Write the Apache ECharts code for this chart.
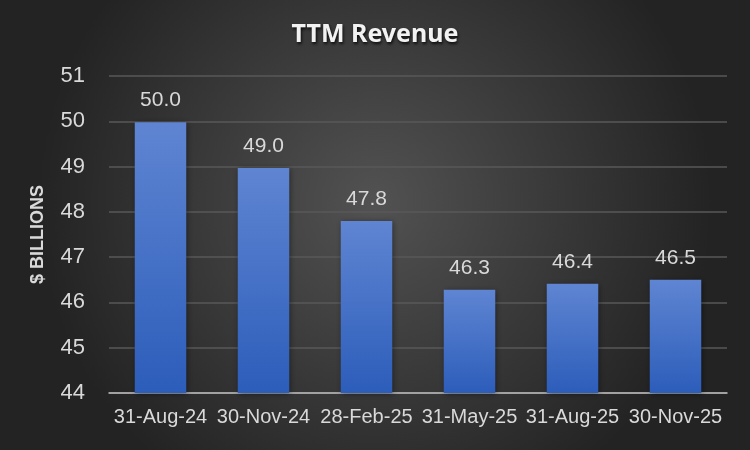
<!DOCTYPE html>
<html><head><meta charset="utf-8">
<script src="https://cdn.jsdelivr.net/npm/echarts@6/dist/echarts.min.js"></script>
<style>html,body{margin:0;padding:0;}#c{width:750px;height:450px;}</style>
</head><body><div id="c"></div>
<script>
const categories = ['31-Aug-24','30-Nov-24','28-Feb-25','31-May-25','31-Aug-25','30-Nov-25'];
const revenue = [49.98, 48.97, 47.80, 46.28, 46.41, 46.50];
const yTicks = {min: 44, max: 51, interval: 1};

const chart = echarts.init(document.getElementById('c'), null, {renderer: 'canvas'});
chart.setOption({
  backgroundColor: {
    type: 'radial', x: 0.5, y: 0.45, r: 0.75,
    colorStops: [{offset: 0, color: '#525252'}, {offset: 1, color: '#232323'}]
  },
  animation: false,
  title: {
    text: 'TTM Revenue', left: 'center', top: 17,
    textStyle: {color: '#f2f2f2', fontSize: 25, fontWeight: 'bold', fontFamily: 'Noto Sans',
      textShadowColor: 'rgba(0,0,0,0.8)', textShadowBlur: 3, textShadowOffsetX: 1, textShadowOffsetY: 2}
  },
  grid: {left: 109, right: 23, top: 76, bottom: 57},
  xAxis: {
    type: 'category', data: categories,
    axisLine: {lineStyle: {color: '#bfbfbf', width: 1.5}},
    axisTick: {show: false},
    axisLabel: {color: '#d9d9d9', fontSize: 20, fontFamily: 'Liberation Sans', margin: 14, interval: 0}
  },
  yAxis: {
    type: 'value', min: yTicks.min, max: yTicks.max, interval: yTicks.interval,
    name: '$ BILLIONS', nameLocation: 'middle', nameGap: 62, nameRotate: 90,
    nameTextStyle: {color: '#d9d9d9', fontSize: 18, fontWeight: 'bold', fontFamily: 'Liberation Sans'},
    axisLine: {show: false}, axisTick: {show: false},
    splitLine: {lineStyle: {color: '#595959', width: 1.5}},
    axisLabel: {color: '#d9d9d9', fontSize: 22, fontFamily: 'Liberation Sans', margin: 24}
  },
  series: [{
    type: 'bar', data: revenue, barWidth: '50%',
    itemStyle: {
      color: {type: 'linear', x: 0, y: 0, x2: 0, y2: 1,
        colorStops: [{offset: 0, color: '#5f85d2'}, {offset: 1, color: '#2c5dba'}]},
      shadowColor: 'rgba(0,0,0,0.45)', shadowBlur: 6, shadowOffsetX: 1, shadowOffsetY: 1
    },
    label: {show: true, position: 'top', distance: 11, color: '#d9d9d9', fontSize: 21,
      fontFamily: 'Liberation Sans', formatter: p => p.value.toFixed(1)}
  }]
});
</script></body></html>
